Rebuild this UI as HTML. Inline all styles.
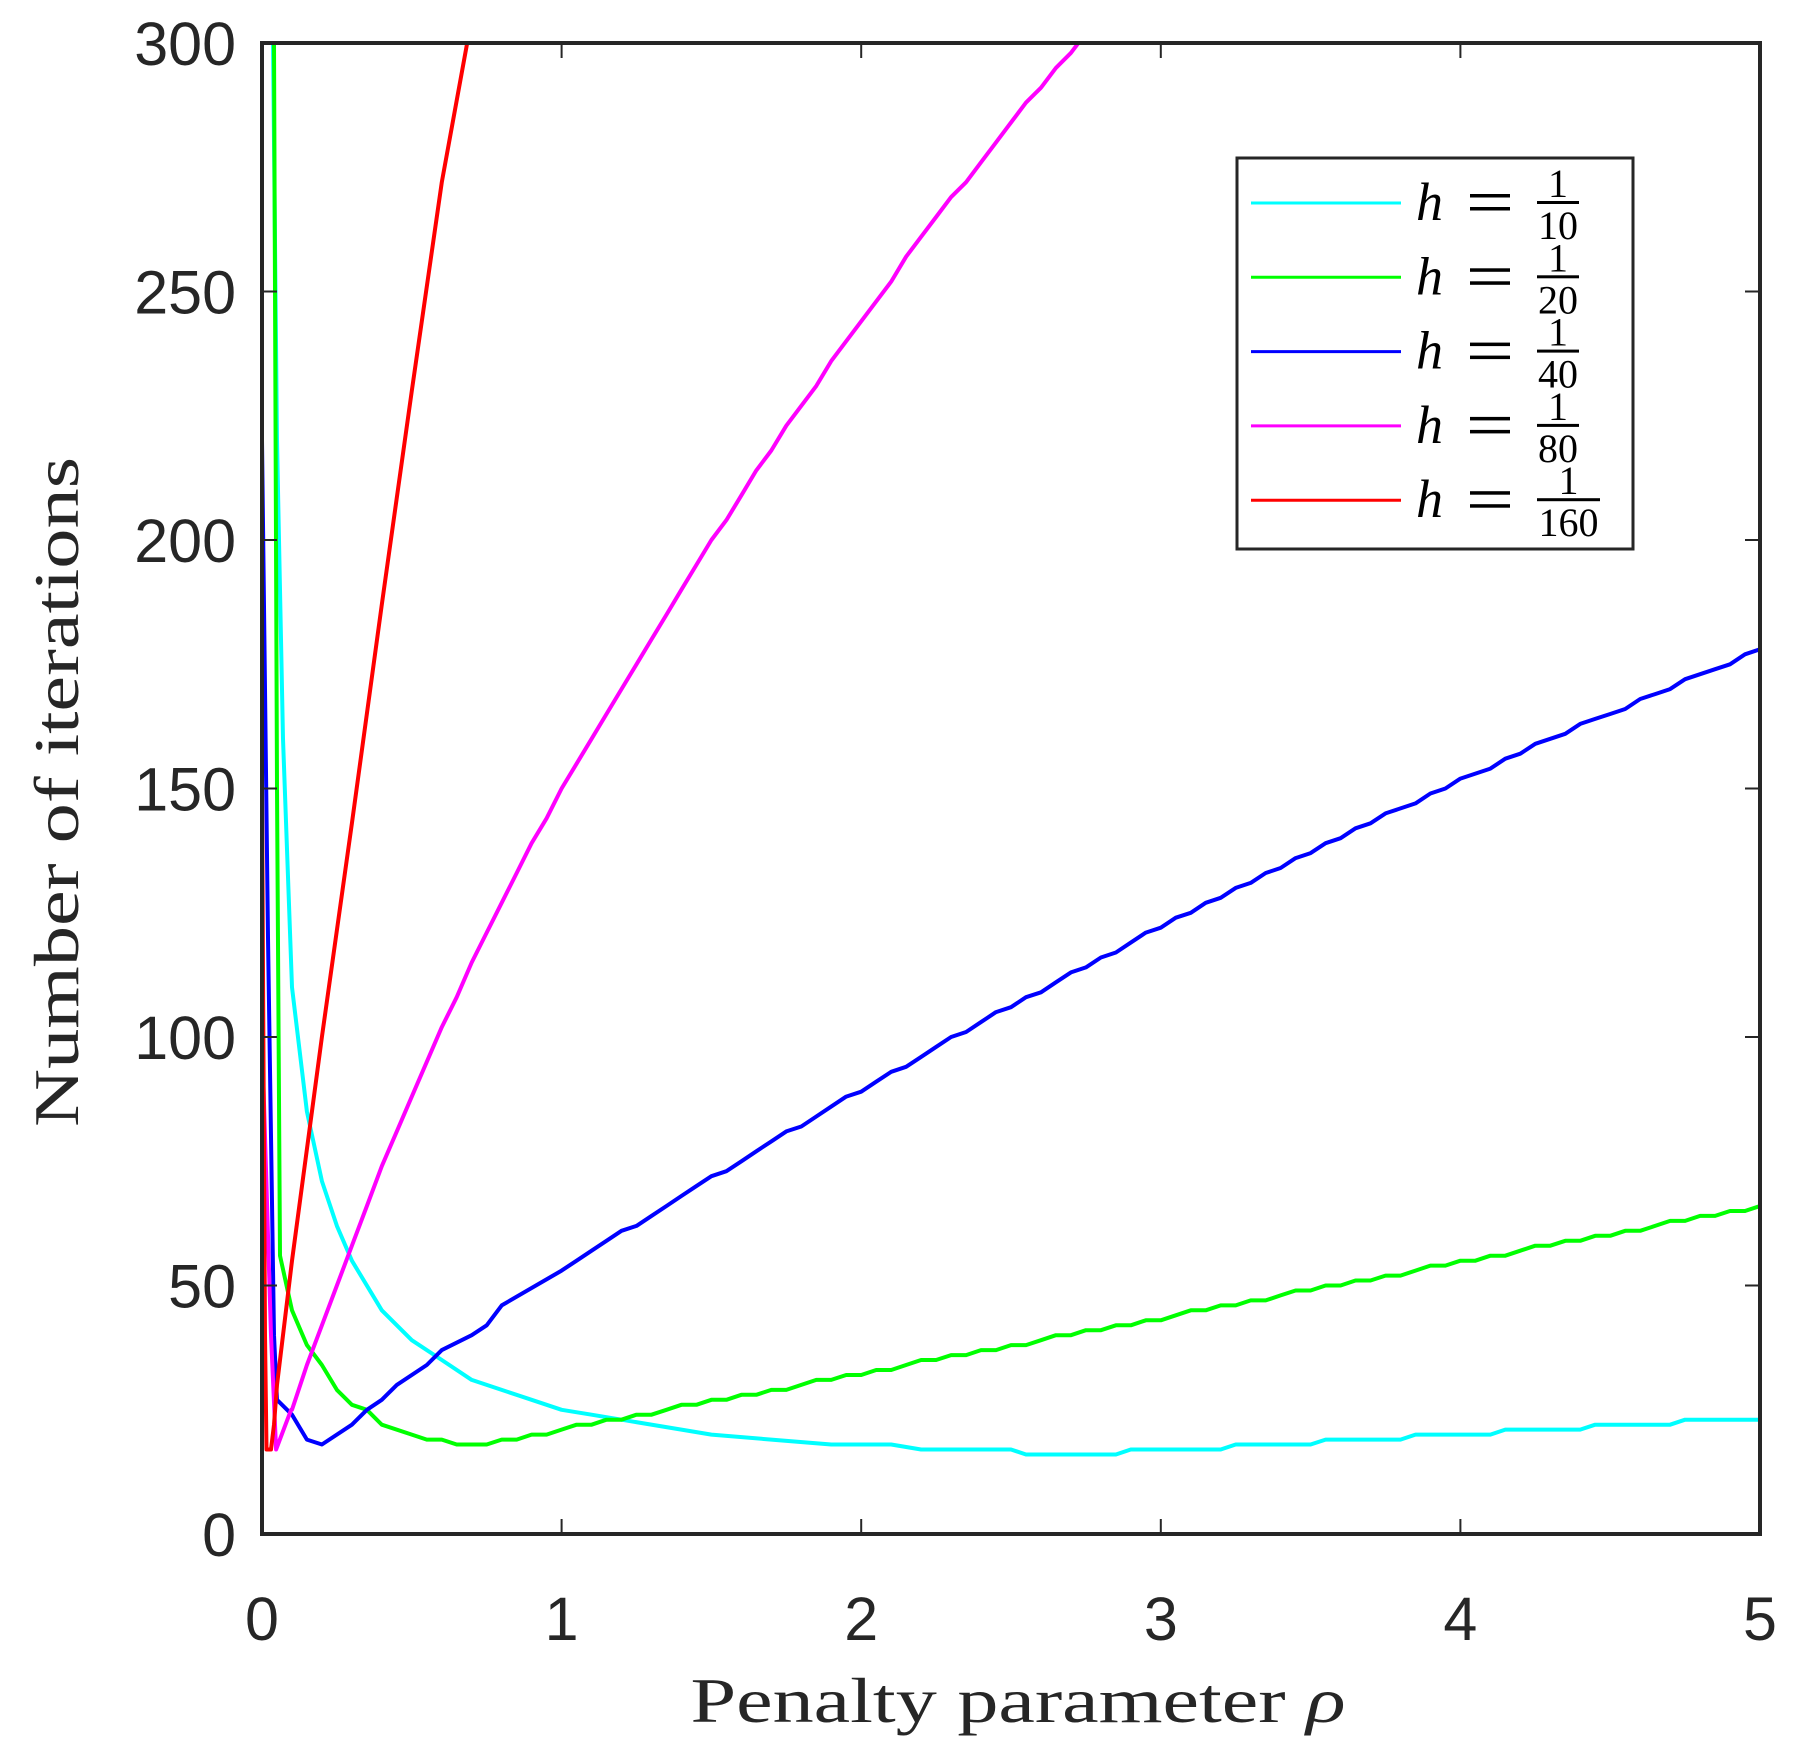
<!DOCTYPE html>
<html><head><meta charset="utf-8"><style>
html,body{margin:0;padding:0;background:#fff;}
svg{display:block;}
</style></head><body>
<svg id="s" width="1803" height="1750" viewBox="0 0 1803 1750" xmlns="http://www.w3.org/2000/svg">
<defs><clipPath id="c"><rect x="262" y="43" width="1498" height="1491"/></clipPath></defs>
<rect width="1803" height="1750" fill="#fff"/>
<g id="series" clip-path="url(#c)" fill="none" stroke-width="4" stroke-linejoin="round"></g>
<g id="ticks" stroke="#262626" stroke-width="2"></g>
<rect x="262" y="43" width="1498" height="1491" fill="none" stroke="#262626" stroke-width="4"/>
<g font-family="Liberation Sans, sans-serif" font-size="61" fill="#262626" id="labels"></g>
<text x="0" y="0" transform="translate(78,792) rotate(-90)" text-anchor="middle" font-family="Liberation Serif, serif" font-size="64" fill="#262626" textLength="670" lengthAdjust="spacingAndGlyphs">Number of iterations</text>
<text x="1018" y="1722" text-anchor="middle" font-family="Liberation Serif, serif" font-size="64" fill="#262626" textLength="655" lengthAdjust="spacingAndGlyphs">Penalty parameter <tspan font-style="italic">ρ</tspan></text>
<g id="legend">
<rect x="1237" y="158" width="396" height="391" fill="#fff" stroke="#262626" stroke-width="3"/>
</g>
</svg>
<script>
var X=function(r){return 262+r*299.6}, Y=function(v){return 1534-v*4.97};
var NS="http://www.w3.org/2000/svg";
function el(p,t,a,txt){var e=document.createElementNS(NS,t);for(var k in a)e.setAttribute(k,a[k]);if(txt!==undefined)e.textContent=txt;p.appendChild(e);return e;}
var tk=document.getElementById('ticks'),lb=document.getElementById('labels');
for(var i=0;i<=5;i++){var x=X(i);el(tk,'line',{x1:x,y1:1534,x2:x,y2:1519});el(tk,'line',{x1:x,y1:43,x2:x,y2:58});
 el(lb,'text',{x:x,y:1640,'text-anchor':'middle'},String(i));}
for(var v=0;v<=300;v+=50){var y=Y(v);el(tk,'line',{x1:262,y1:y,x2:277,y2:y});el(tk,'line',{x1:1760,y1:y,x2:1745,y2:y});
 el(lb,'text',{x:236,y:y+22,'text-anchor':'end'},String(v));}
function lin(pts){var a=[];for(var i=0;i<pts.length-1;i++){var p=pts[i],q=pts[i+1];for(var r=p[0];r<q[0]-1e-9;r+=0.05){a.push([r,p[1]+(q[1]-p[1])*(r-p[0])/(q[0]-p[0])]);}}a.push(pts[pts.length-1]);return a;}
function path(pts,col,round){var d='';pts.forEach(function(p,i){var v=round?Math.round(p[1]):p[1];d+=(i?'L':'M')+X(p[0]).toFixed(1)+','+Y(v).toFixed(1);});el(document.getElementById('series'),'path',{d:d,stroke:col});}
var cy=[[0.035,310],[0.05,220],[0.07,160],[0.1,110],[0.15,85],[0.2,71],[0.25,62],[0.3,55],[0.4,45],[0.5,39],[0.6,35],[0.7,31],[0.8,29],[0.9,27],[1.0,25],[1.1,24],[1.2,23],[1.4,21],[1.5,20],[1.7,19],[1.9,18],[2.1,18],[2.2,17],[2.5,17],[2.55,16],[2.85,16],[2.9,17],[3.2,17],[3.25,18],[3.5,18],[3.55,19],[3.8,19],[3.85,20],[4.1,20],[4.15,21],[4.4,21],[4.45,22],[4.7,22],[4.75,23],[5,23]];
path(cy,'#00ffff',false);
var gr=[[0.02,320],[0.04,300],[0.05,150],[0.06,56],[0.1,45],[0.15,38],[0.2,34],[0.25,29],[0.3,26],[0.35,25],[0.4,22],[0.5,20],[0.55,19],[0.6,19],[0.65,18],[0.75,18],[0.8,19],[0.85,19],[0.9,20],[0.95,20],[1.0,21]];
var g2=[];for(var r=1.05;r<=5.001;r+=0.05)g2.push([r,Math.round(21+(r-1)*11.25)]);
path(gr.concat(g2),'#00ff00',false);
var bl=[[0,220],[0.02,120],[0.04,40],[0.05,27],[0.1,24],[0.15,19],[0.2,18],[0.3,22],[0.35,25],[0.4,27],[0.45,30],[0.55,34],[0.6,37],[0.7,40],[0.75,42],[0.8,46],[1,53]];
var b2=[];for(var r=1.05;r<=5.001;r+=0.05){var v=53+(r-1)*38-(r-1)*(r-1)*1.7;b2.push([r,Math.round(v)]);}
path(bl.concat(b2),'#0000ff',false);
var mg=lin([[0,100],[0.03,40],[0.047,17],[0.1,25],[0.2,42],[0.3,58],[0.4,74],[0.5,88],[0.6,102],[0.8,127],[1.0,150],[1.2,170],[1.4,190],[1.6,209],[1.8,227],[2.0,244],[2.2,261],[2.5,284],[2.75,302]]);
path(mg,'#ff00ff',true);
path([[0,150],[0.01,40],[0.015,17],[0.03,17],[0.04,22],[0.05,30],[0.1,55],[0.2,100],[0.3,143],[0.4,187],[0.5,230],[0.6,272],[0.7,305]],'#ff0000',false);
var lg=document.getElementById('legend');
var cols=['#00ffff','#00ff00','#0000ff','#ff00ff','#ff0000'],dens=['10','20','40','80','160'];
for(var i=0;i<5;i++){var y=203+i*74.3;
 el(lg,'line',{x1:1251,y1:y,x2:1401,y2:y,stroke:cols[i],'stroke-width':3});
 el(lg,'text',{x:1416,y:y+17,'font-family':'Liberation Serif, serif','font-style':'italic','font-size':54,fill:'#000'},'h');
 el(lg,'rect',{x:1470,y:y-9,width:40,height:3.5,fill:'#000'});el(lg,'rect',{x:1470,y:y+4,width:40,height:3.5,fill:'#000'});
 var w=i==4?63:42;el(lg,'rect',{x:1537,y:y-2,width:w,height:3,fill:'#000'});
 el(lg,'text',{x:1537+w/2,y:y-6,'text-anchor':'middle','font-family':'Liberation Serif, serif','font-size':40,fill:'#000'},'1');
 el(lg,'text',{x:1537+w/2,y:y+36,'text-anchor':'middle','font-family':'Liberation Serif, serif','font-size':40,fill:'#000'},dens[i]);
}
</script>
</body></html>
